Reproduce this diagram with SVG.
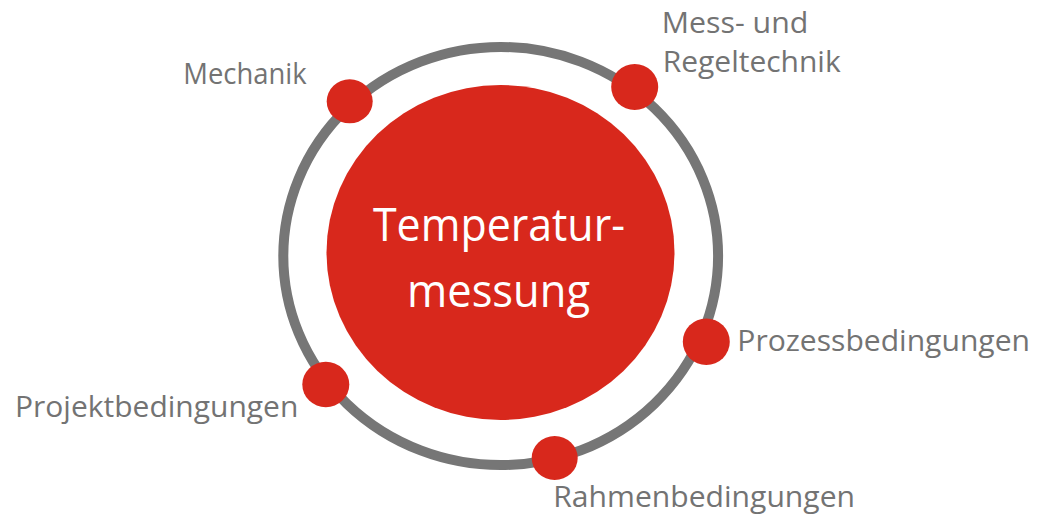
<svg xmlns="http://www.w3.org/2000/svg" width="1041" height="525" viewBox="0 0 1041 525">
<style>
.ring{fill:none;stroke:#767676;stroke-width:10}
.dot{fill:#D8281C}
.lbl{font-family:"Open Sans","Noto Sans","Liberation Sans",sans-serif;font-size:29px;fill:#737373}
.ctr{font-family:"Open Sans","Noto Sans","Liberation Sans",sans-serif;font-size:45px;fill:#FFFFFF;text-anchor:middle}
</style>
<rect width="1041" height="525" fill="#FFFFFF"/>
<g id="connectors">
<ellipse class="ring" cx="500.7" cy="256" rx="217.4" ry="209"/>
</g>
<g id="center">
<ellipse class="dot" cx="500.5" cy="252.5" rx="174" ry="167.5"/>
<text class="ctr" x="499" y="241" textLength="252" lengthAdjust="spacingAndGlyphs">Temperatur-</text>
<text class="ctr" x="498.5" y="306.5" textLength="183" lengthAdjust="spacingAndGlyphs">messung</text>
</g>
<g id="mechanik">
<ellipse class="dot" cx="349.7" cy="101.3" rx="23" ry="22"/>
<text class="lbl" x="183.3" y="84" textLength="123.4" lengthAdjust="spacingAndGlyphs">Mechanik</text>
</g>
<g id="mess">
<ellipse class="dot" cx="634.7" cy="87" rx="23.5" ry="23"/>
<text class="lbl" x="661.7" y="33" textLength="146.6" lengthAdjust="spacingAndGlyphs">Mess- und</text>
<text class="lbl" x="662.7" y="71.5" textLength="178" lengthAdjust="spacingAndGlyphs">Regeltechnik</text>
</g>
<g id="prozess">
<ellipse class="dot" cx="706.3" cy="341.7" rx="23.5" ry="23.3"/>
<text class="lbl" x="737.3" y="351" textLength="292.7" lengthAdjust="spacingAndGlyphs">Prozessbedingungen</text>
</g>
<g id="projekt">
<ellipse class="dot" cx="325.8" cy="384.5" rx="23.5" ry="22.8"/>
<text class="lbl" x="15" y="416.5" textLength="283.3" lengthAdjust="spacingAndGlyphs">Projektbedingungen</text>
</g>
<g id="rahmen">
<ellipse class="dot" cx="554.7" cy="458" rx="23" ry="22"/>
<text class="lbl" x="553.3" y="507" textLength="301.7" lengthAdjust="spacingAndGlyphs">Rahmenbedingungen</text>
</g>
</svg>
